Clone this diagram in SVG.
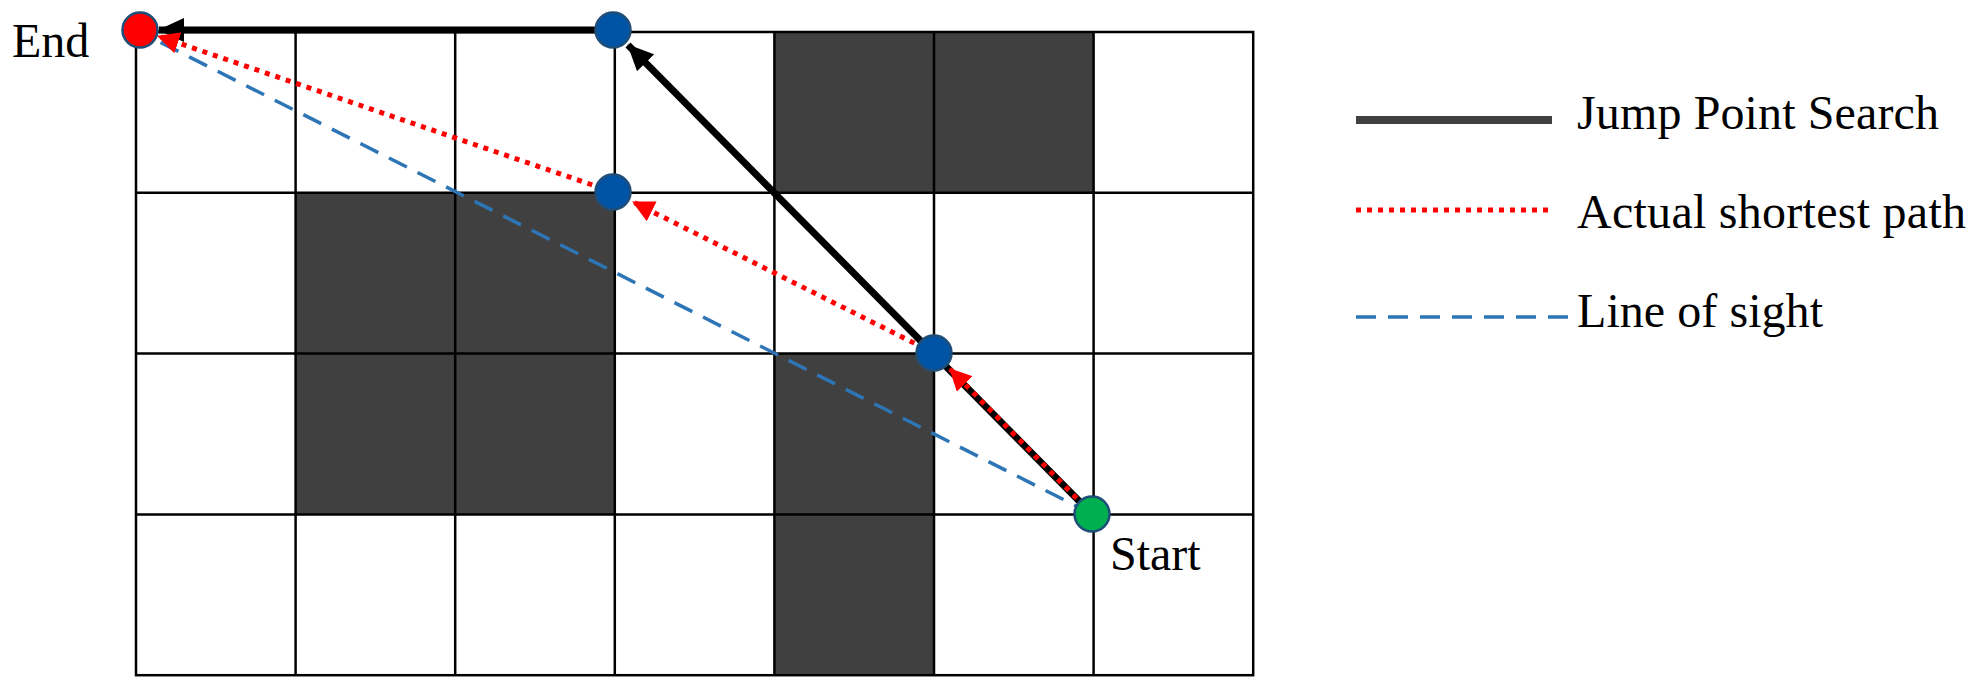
<svg xmlns="http://www.w3.org/2000/svg" width="1978" height="689" viewBox="0 0 1978 689">
<style>
.cell{fill:#404040}
.grid{stroke:#000;stroke-width:2.5;fill:none}
.jps{stroke:#000;stroke-width:7;fill:none}
.asp{stroke:#FF0000;stroke-width:5;stroke-dasharray:5 6;fill:none}
.los{stroke:#2E75B6;stroke-width:3.5;stroke-dasharray:20 12;fill:none}
.node{stroke:#1F4E79;stroke-width:2.5}
.lbl{font-family:"Liberation Serif","Times New Roman",serif;font-size:48px;fill:#000}
</style>
<defs>
<marker id="ab" markerUnits="userSpaceOnUse" markerWidth="26" markerHeight="24" viewBox="0 0 26 24" refX="25" refY="12" orient="auto">
<path d="M0,0 L26,12 L0,24 Z" fill="#000"/>
</marker>
<marker id="ar" markerUnits="userSpaceOnUse" markerWidth="22" markerHeight="22" viewBox="0 0 22 22" refX="21" refY="11" orient="auto">
<path d="M0,0 L22,11 L0,22 Z" fill="#FF0000"/>
</marker>
</defs>
<rect width="1978" height="689" fill="#fff"/>
<g id="obstacles">
<rect class="cell" x="774.4" y="32" width="319.2" height="160.8"/>
<rect class="cell" x="295.6" y="192.8" width="319.2" height="321.6"/>
<rect class="cell" x="774.4" y="353.6" width="159.6" height="321.6"/>
</g>
<g id="grid" class="grid">
<rect x="136" y="32" width="1117.2" height="643.2"/>
<line x1="295.6" y1="32" x2="295.6" y2="675.2"/>
<line x1="455.2" y1="32" x2="455.2" y2="675.2"/>
<line x1="614.8" y1="32" x2="614.8" y2="675.2"/>
<line x1="774.4" y1="32" x2="774.4" y2="675.2"/>
<line x1="934" y1="32" x2="934" y2="675.2"/>
<line x1="1093.6" y1="32" x2="1093.6" y2="675.2"/>
<line x1="136" y1="192.8" x2="1253.2" y2="192.8"/>
<line x1="136" y1="353.6" x2="1253.2" y2="353.6"/>
<line x1="136" y1="514.4" x2="1253.2" y2="514.4"/>
</g>
<g id="connectors">
<line class="los" x1="1092" y1="514" x2="150" y2="37"/>
<line class="jps" x1="1092" y1="514" x2="628" y2="45" marker-end="url(#ab)"/>
<line class="jps" x1="613" y1="30" x2="159" y2="30" marker-end="url(#ab)"/>
<line class="asp" x1="1092" y1="514" x2="950" y2="369" marker-end="url(#ar)"/>
<line class="asp" x1="934" y1="353" x2="633" y2="202" marker-end="url(#ar)"/>
<line class="asp" x1="613" y1="192" x2="158" y2="36" marker-end="url(#ar)"/>
</g>
<g id="node-end"><circle class="node" cx="140" cy="30" r="17.5" fill="#FF0000"/><text class="lbl" x="12" y="57">End</text></g>
<g id="node-j1"><circle class="node" cx="613" cy="30" r="17.5" fill="#0054A6"/></g>
<g id="node-j2"><circle class="node" cx="613" cy="192" r="17.5" fill="#0054A6"/></g>
<g id="node-j3"><circle class="node" cx="934" cy="353" r="17.5" fill="#0054A6"/></g>
<g id="node-start"><circle class="node" cx="1092" cy="514" r="17.5" fill="#00B050"/><text class="lbl" x="1110" y="570">Start</text></g>
<g id="legend">
<line x1="1356" y1="120" x2="1552" y2="120" stroke="#404040" stroke-width="8"/>
<line class="asp" x1="1356" y1="210" x2="1552" y2="210" stroke-width="4.5"/>
<line class="los" x1="1356" y1="317" x2="1574" y2="317" stroke-width="4.5" stroke-dasharray="21 14"/>
<text class="lbl" x="1577" y="129" textLength="362" lengthAdjust="spacing">Jump Point Search</text>
<text class="lbl" x="1577" y="228" textLength="389" lengthAdjust="spacing">Actual shortest path</text>
<text class="lbl" x="1577" y="327" textLength="246" lengthAdjust="spacing">Line of sight</text>
</g>
</svg>
